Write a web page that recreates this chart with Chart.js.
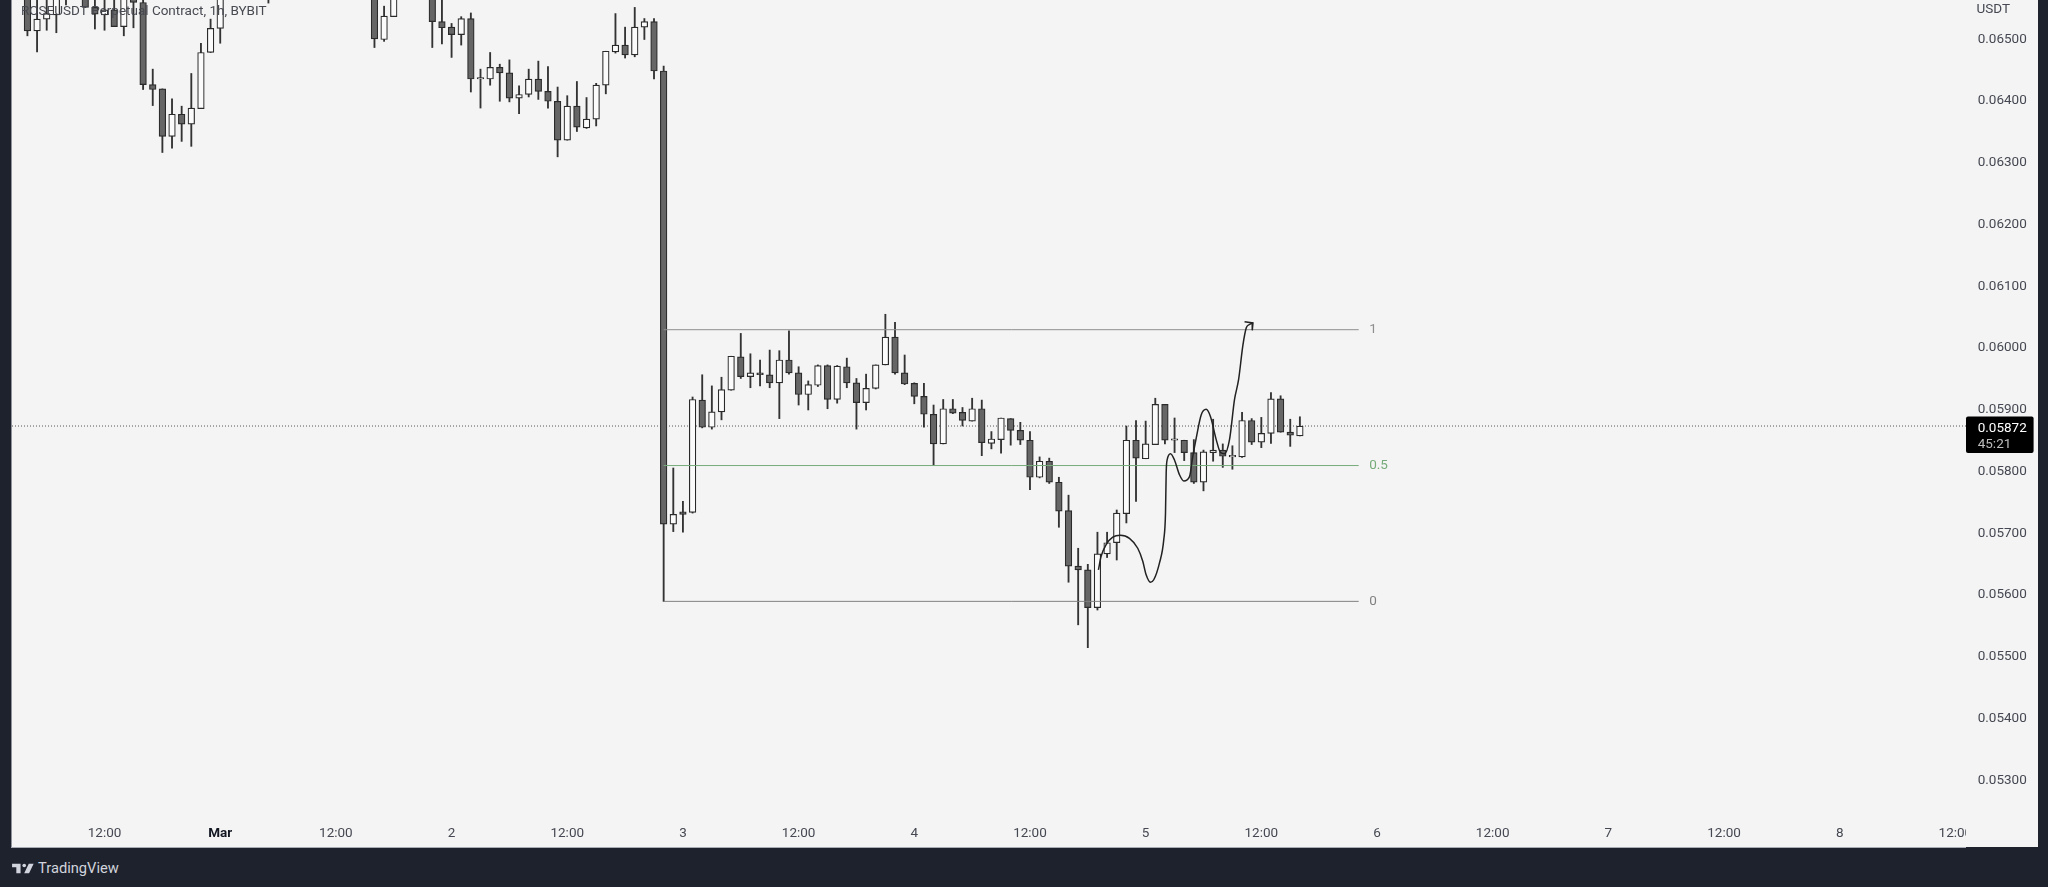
<!DOCTYPE html>
<html>
<head>
<meta charset="utf-8">
<title>ROSEUSDT</title>
<script src="https://cdn.jsdelivr.net/npm/chart.js@4/dist/chart.umd.min.js"></script>
<style>
    html, body { margin: 0; padding: 0; background: #1e222d; overflow: hidden; }
    #chart-box { position: absolute; left: 12px; top: 0; width: 2026px; height: 847px; background: #f4f4f4; }
    #left-edge { position: absolute; left: 11px; top: 0; width: 1px; height: 848px; background: #8f929b; }
    #bottom-edge { position: absolute; left: 11px; top: 847px; width: 1955px; height: 1px; background: #a9acb5; }
    #brand { position: absolute; left: 12px; top: 859px; height: 18px; display: flex; align-items: center; color: #d1d4dc; font: 14.7px Roboto, sans-serif; }
    #brand svg { width: 22px; height: 17px; margin-right: 4px; fill: #d1d4dc; }
</style>
</head>
<body>
<div id="chart-box"><canvas id="chart" width="2026" height="847"></canvas></div>
<div id="left-edge"></div>
<div id="bottom-edge"></div>
<div id="brand">
    <svg viewBox="0 0 36 28"><path d="M14 6H0v6h7v10h7zM28 22h-8l7.5-16h8z"/><circle cx="20" cy="9" r="3"/></svg>
    <span>TradingView</span>
</div>

<script>
// candles, hours counted from 1 Mar 00:00 (the ones fully above the view are left out)
const hours = [-20, -19, -18, -17, -16, -14, -13, -12, -11, -10,
    -9, -8, -7, -6, -5, -4, -3, -2, -1, 0,
    5, 16, 17, 18, 22, 23, 24, 25, 26, 27,
    28, 29, 30, 31, 32, 33, 34, 35, 36, 37,
    38, 39, 40, 41, 42, 43, 44, 45, 46, 47,
    48, 49, 50, 51, 52, 53, 54, 55, 56, 57,
    58, 59, 60, 61, 62, 63, 64, 65, 66, 67,
    68, 69, 70, 71, 72, 73, 74, 75, 76, 77,
    78, 79, 80, 81, 82, 83, 84, 85, 86, 87,
    88, 89, 90, 91, 92, 93, 94, 95, 96, 97,
    98, 99, 100, 101, 102, 103, 104, 105, 106, 107,
    108, 109, 110, 111, 112];
const opens = [0.0658, 0.06512, 0.06531, 0.06538, 0.0657, 0.0659, 0.0655, 0.06538, 0.06546, 0.06519,
    0.06575, 0.06558, 0.06425, 0.06418, 0.06341, 0.06377, 0.06361, 0.06386, 0.06477, 0.06516,
    0.0657, 0.066, 0.06498, 0.06535, 0.0659, 0.06527, 0.06518, 0.06506, 0.06532, 0.06434,
    0.06434, 0.06453, 0.06444, 0.06403, 0.06409, 0.06434, 0.06414, 0.06398, 0.06335, 0.0639,
    0.06355, 0.06369, 0.06424, 0.06478, 0.06489, 0.06473, 0.06518, 0.06527, 0.06447, 0.05713,
    0.05733, 0.05732, 0.05914, 0.0587, 0.05895, 0.0593, 0.05984, 0.05952, 0.05958, 0.05955,
    0.05942, 0.05979, 0.05958, 0.05923, 0.05938, 0.0597, 0.05915, 0.05968, 0.05942, 0.0591,
    0.05933, 0.05971, 0.06016, 0.05958, 0.05941, 0.0592, 0.05891, 0.05843, 0.059, 0.05894,
    0.0588, 0.059, 0.05844, 0.0585, 0.05884, 0.05865, 0.05849, 0.05789, 0.05815, 0.05781,
    0.05735, 0.05645, 0.05639, 0.05578, 0.05665, 0.05683, 0.0573, 0.05849, 0.05819, 0.05842,
    0.05907, 0.05849, 0.05849, 0.05829, 0.05781, 0.05829, 0.05833, 0.05822, 0.05822, 0.05881,
    0.05846, 0.0586, 0.05916, 0.05862, 0.05856];
const highs = [0.0659, 0.06565, 0.06565, 0.0658, 0.06595, 0.06595, 0.0657, 0.0657, 0.0657, 0.0658,
    0.0658, 0.06562, 0.0645, 0.06418, 0.06402, 0.0639, 0.06443, 0.06492, 0.06531, 0.06575,
    0.06595, 0.0661, 0.06552, 0.06595, 0.06595, 0.0657, 0.06524, 0.06535, 0.06541, 0.0645,
    0.06477, 0.06458, 0.06465, 0.06423, 0.0645, 0.06463, 0.06454, 0.06421, 0.06407, 0.0643,
    0.06404, 0.06427, 0.06479, 0.0654, 0.06518, 0.0655, 0.06532, 0.06532, 0.06455, 0.05804,
    0.0575, 0.05919, 0.05955, 0.05937, 0.05951, 0.05985, 0.06022, 0.05989, 0.05979, 0.05995,
    0.05994, 0.06026, 0.05968, 0.05945, 0.05971, 0.05971, 0.0597, 0.05982, 0.05949, 0.05956,
    0.05971, 0.06053, 0.0604, 0.05987, 0.05942, 0.05941, 0.05906, 0.05915, 0.05915, 0.05902,
    0.05917, 0.05914, 0.05863, 0.05885, 0.05884, 0.05878, 0.05863, 0.05822, 0.0582, 0.05789,
    0.0576, 0.05674, 0.05648, 0.057, 0.057, 0.05736, 0.05872, 0.05881, 0.0588, 0.05917,
    0.05907, 0.05885, 0.05849, 0.0585, 0.05833, 0.05883, 0.05843, 0.0584, 0.05894, 0.05884,
    0.05886, 0.05926, 0.05921, 0.05883, 0.05887];
const lows = [0.06504, 0.06478, 0.06513, 0.06509, 0.06554, 0.0655, 0.06515, 0.06513, 0.06519, 0.06504,
    0.06517, 0.06417, 0.06391, 0.06315, 0.06322, 0.06333, 0.06325, 0.06386, 0.06477, 0.06492,
    0.06557, 0.06485, 0.06495, 0.06535, 0.06485, 0.06491, 0.06469, 0.06489, 0.06413, 0.06387,
    0.06424, 0.06398, 0.06397, 0.06378, 0.06405, 0.06401, 0.06387, 0.06308, 0.06335, 0.06349,
    0.06354, 0.06358, 0.0641, 0.06476, 0.06468, 0.0647, 0.06498, 0.06434, 0.05588, 0.05701,
    0.057, 0.05731, 0.05869, 0.05867, 0.05882, 0.0593, 0.05949, 0.05934, 0.05937, 0.05934,
    0.05884, 0.05956, 0.05906, 0.05898, 0.05936, 0.059, 0.05909, 0.05934, 0.05867, 0.05898,
    0.05932, 0.05971, 0.05956, 0.05939, 0.05908, 0.0587, 0.05808, 0.05843, 0.05892, 0.05872,
    0.0588, 0.05824, 0.05835, 0.05828, 0.05841, 0.05842, 0.05769, 0.05788, 0.05779, 0.05708,
    0.05619, 0.0555, 0.05513, 0.05574, 0.05659, 0.05655, 0.05715, 0.0575, 0.05819, 0.05842,
    0.05843, 0.05829, 0.05816, 0.05779, 0.05767, 0.05815, 0.05805, 0.05802, 0.05821, 0.05842,
    0.05837, 0.05844, 0.05862, 0.05839, 0.05856];
const closes = [0.06512, 0.06531, 0.0654, 0.0657, 0.0659, 0.0655, 0.06539, 0.06546, 0.06519, 0.06575,
    0.06558, 0.06425, 0.06417, 0.06341, 0.06377, 0.06361, 0.06387, 0.06477, 0.06516, 0.0657,
    0.0659, 0.06499, 0.06536, 0.0659, 0.06527, 0.06517, 0.06506, 0.06532, 0.06434, 0.06434,
    0.06453, 0.06444, 0.06403, 0.06409, 0.06434, 0.06414, 0.06398, 0.06335, 0.0639, 0.06356,
    0.06369, 0.06424, 0.06479, 0.06489, 0.06473, 0.06518, 0.06527, 0.06447, 0.05713, 0.05729,
    0.05729, 0.05915, 0.0587, 0.05895, 0.05931, 0.05985, 0.05952, 0.05958, 0.05955, 0.05942,
    0.05979, 0.05958, 0.05923, 0.05939, 0.0597, 0.05915, 0.05969, 0.05942, 0.0591, 0.05933,
    0.05971, 0.06016, 0.05958, 0.0594, 0.0592, 0.05891, 0.05843, 0.059, 0.05893, 0.05881,
    0.059, 0.05845, 0.05851, 0.05885, 0.05865, 0.05849, 0.05789, 0.05815, 0.05781, 0.05734,
    0.05645, 0.05639, 0.05578, 0.05665, 0.05683, 0.05731, 0.05849, 0.0582, 0.05843, 0.05907,
    0.05849, 0.05849, 0.05829, 0.05781, 0.0583, 0.05833, 0.05823, 0.05822, 0.05881, 0.05846,
    0.0586, 0.05916, 0.05862, 0.05857, 0.05872];

// axis ticks
const priceTicks = [0.065, 0.064, 0.063, 0.062, 0.061, 0.06, 0.059, 0.058, 0.057, 0.056, 0.055, 0.054, 0.053];
const timeTicks = [-12, 0, 12, 24, 36, 48, 60, 72, 84, 96, 108, 120, 132, 144, 156, 168, 180];
const timeLabels = ["12:00", "Mar", "12:00", "2", "12:00", "3", "12:00", "4", "12:00", "5", "12:00", "6", "12:00", "7", "12:00", "8", "12:00"];

// fib tool
const fibLevels = [0.06028, 0.05808, 0.05588];
const fibNames = ["1", "0.5", "0"];
const fibColors = ["#8e8e8e", "#77ab7a", "#808080"];
const fibHours = [46, 118.1];

// last price
const lastPrice = 0.05872;
const countdown = "45:21";

// freehand arrow drawn on the chart
const pathHours = [91.1, 91.38, 91.9, 92.59, 93.38, 94.32, 95.18, 95.7, 96.05, 96.5, 96.84, 97.43, 97.88, 98.06, 98.13, 98.23,
    98.58, 98.99, 99.51, 99.96, 100.55, 100.89, 101.24, 101.76, 102.28, 102.73, 103.32, 103.77, 104.18, 104.7, 105.22,
    105.64, 106.09, 106.44, 106.72, 107.13];
const pathPrices = [0.05639, 0.05661, 0.0568, 0.05692, 0.05695, 0.0569, 0.05674, 0.05653, 0.05631, 0.05619, 0.05623, 0.0565, 0.05688, 0.05731, 0.05796, 0.05817,
    0.05827, 0.05817, 0.05793, 0.05783, 0.0579, 0.05823, 0.05852, 0.0589, 0.05899, 0.05887, 0.0585, 0.05829, 0.05827, 0.0585, 0.05915,
    0.05947, 0.06003, 0.06031, 0.06036, 0.06039];
const headHours = [106.26, 107.13, 107.06];
const headPrices = [0.06041, 0.06039, 0.06027];

const xMin = -21.6;
const xMax = 181.1;
const yMin = 0.05242;
const yMax = 0.06562;

const textColor = "#454852";
const bull = "#fbfbfb";
const bear = "#666666";
const edge = "#2a2a2a";

function line(xs, ys, color, width, dash, order, smooth) {
    return {
        type: "line",
        data: xs.map((x, i) => ({ x: x, y: ys[i] })),
        borderColor: color,
        borderWidth: width,
        borderDash: dash,
        pointRadius: 0,
        order: order,
        cubicInterpolationMode: smooth ? "monotone" : "default",
        tension: 0
    };
}

function isMonth(ctx) {
    return ctx.tick && ctx.tick.label === "Mar";
}

// the plot has to fill the canvas, so no room is kept for half labels
function noPadding(axis) {
    axis.paddingLeft = 0;
    axis.paddingRight = 0;
    axis.paddingTop = 0;
    axis.paddingBottom = 0;
}

// text and boxes that are not part of an axis
const overlay = {
    id: "overlay",
    beforeDatasetsDraw(chart) {
        // the time axis stops where the price axis starts
        const ctx = chart.ctx;
        ctx.save();
        ctx.fillStyle = "#f4f4f4";
        ctx.fillRect(chart.chartArea.right, chart.chartArea.bottom, 72, 32);
        ctx.restore();
    },
    afterDraw(chart) {
        const ctx = chart.ctx;
        const x = chart.scales.x;
        const y = chart.scales.y;
        ctx.save();
        ctx.textBaseline = "middle";

        ctx.font = "13.5px Roboto";
        fibLevels.forEach((level, i) => {
            ctx.fillStyle = fibColors[i];
            ctx.fillText(fibNames[i], x.getPixelForValue(fibHours[1]) + 10.5, y.getPixelForValue(level));
        });

        ctx.fillStyle = "#484a52";
        ctx.font = "13.5px Roboto";
        ctx.fillText("ROSEUSDT Perpetual Contract, 1h, BYBIT", 9, 11.5);

        ctx.fillStyle = textColor;
        ctx.font = "13.5px Roboto";
        ctx.fillText("USDT", 1964.5, 10);

        const boxTop = y.getPixelForValue(lastPrice) - 9.5;
        ctx.fillStyle = "#000000";
        ctx.beginPath();
        ctx.roundRect(chart.chartArea.right, boxTop, 67.6, 36.6, 2);
        ctx.fill();
        ctx.fillStyle = "#ffffff";
        ctx.fillText(lastPrice.toFixed(5), chart.chartArea.right + 11.7, boxTop + 12);
        ctx.fillStyle = "#bdbdbd";
        ctx.fillText(countdown, chart.chartArea.right + 11.7, boxTop + 28);
        ctx.restore();
    }
};

new Chart(document.getElementById("chart"), {
    type: "bar",
    data: {
        datasets: [
            line([xMin, xMax], [lastPrice, lastPrice], "#555555", 1, [1, 2], 4, false),
            {
                label: "wicks",
                data: hours.map((h, i) => ({ x: h, y: [lows[i], highs[i]] })),
                backgroundColor: "#333333",
                barThickness: 1.2,
                grouped: false,
                order: 3
            },
            {
                label: "bodies",
                data: hours.map((h, i) => ({ x: h, y: [opens[i], closes[i]] })),
                backgroundColor: hours.map((h, i) => (closes[i] < opens[i] ? bear : bull)),
                borderColor: edge,
                borderWidth: 1.2,
                borderSkipped: false,
                barThickness: 6.6,
                minBarLength: 1.5,
                grouped: false,
                order: 2
            },
            line(fibHours, [fibLevels[0], fibLevels[0]], fibColors[0], 1, [], 1, false),
            line(fibHours, [fibLevels[1], fibLevels[1]], fibColors[1], 1, [], 1, false),
            line(fibHours, [fibLevels[2], fibLevels[2]], fibColors[2], 1, [], 1, false),
            line(pathHours, pathPrices, "#222222", 1.5, [], 0, true),
            line(headHours, headPrices, "#222222", 1.5, [], 0, false)
        ]
    },
    options: {
        responsive: false,
        animation: false,
        events: [],
        layout: { padding: 0 },
        plugins: { legend: { display: false }, tooltip: { enabled: false } },
        scales: {
            x: {
                type: "linear",
                offset: false,
                min: xMin,
                max: xMax,
                grid: { display: false },
                border: { display: false },
                afterBuildTicks(axis) {
                    axis.ticks = timeTicks.map(v => ({ value: v }));
                },
                afterFit(axis) {
                    axis.height = 32;
                    noPadding(axis);
                },
                ticks: {
                    autoSkip: false,
                    maxRotation: 0,
                    padding: 2.5,
                    callback: (value, i) => timeLabels[i],
                    color: ctx => (isMonth(ctx) ? "#131722" : textColor),
                    font: ctx => ({
                        family: "Roboto",
                        size: 13.5,
                        weight: isMonth(ctx) ? "bold" : "normal"
                    })
                }
            },
            y: {
                position: "right",
                min: yMin,
                max: yMax,
                grid: { display: false },
                border: { display: false },
                afterBuildTicks(axis) {
                    axis.ticks = priceTicks.map(v => ({ value: v }));
                },
                afterFit(axis) {
                    axis.width = 72;
                    noPadding(axis);
                },
                ticks: {
                    autoSkip: false,
                    padding: 3.7,
                    labelOffset: 1,
                    color: textColor,
                    font: { family: "Roboto", size: 13.5 },
                    callback: value => value.toFixed(5)
                }
            }
        }
    },
    plugins: [overlay]
});
</script>
</body>
</html>
